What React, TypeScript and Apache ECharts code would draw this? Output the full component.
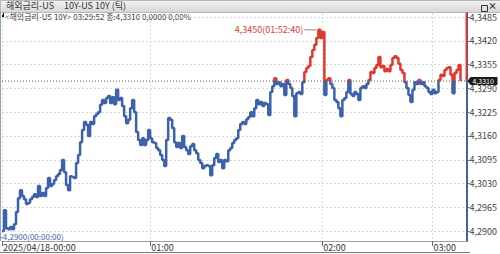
import React, { useEffect, useRef } from "react";
import * as echarts from "echarts";

// Tick-by-tick yield (US 10Y)
const yields: number[] = [
  4.2900, 4.2957, 4.2908, 4.2905, 4.2911, 4.2905, 4.2919, 4.2952, 4.2990, 4.3012,
  4.2996, 4.2987, 4.2974, 4.2977, 4.2987, 4.2993, 4.3001, 4.2993, 4.3023, 4.2996,
  4.3004, 4.2996, 4.3018, 4.3045, 4.3023, 4.3029, 4.3039, 4.3050, 4.3056, 4.3067,
  4.3094, 4.3061, 4.3026, 4.3012, 4.3050, 4.3048, 4.3045, 4.3086, 4.3108, 4.3143,
  4.3176, 4.3198, 4.3190, 4.3160, 4.3198, 4.3193, 4.3214, 4.3220, 4.3225, 4.3245,
  4.3258, 4.3250, 4.3264, 4.3269, 4.3250, 4.3266, 4.3247, 4.3286, 4.3258, 4.3264,
  4.3242, 4.3214, 4.3195, 4.3204, 4.3236, 4.3258, 4.3225, 4.3171, 4.3149, 4.3135,
  4.3154, 4.3135, 4.3149, 4.3176, 4.3154, 4.3143, 4.3141, 4.3127, 4.3121, 4.3108,
  4.3094, 4.3078, 4.3149, 4.3209, 4.3204, 4.3182, 4.3143, 4.3130, 4.3141, 4.3127,
  4.3160, 4.3130, 4.3121, 4.3111, 4.3132, 4.3138, 4.3121, 4.3113, 4.3094, 4.3086,
  4.3072, 4.3078, 4.3080, 4.3078, 4.3053, 4.3080, 4.3100, 4.3111, 4.3089, 4.3094,
  4.3072, 4.3094, 4.3091, 4.3121, 4.3127, 4.3141, 4.3149, 4.3154, 4.3176, 4.3193,
  4.3198, 4.3193, 4.3206, 4.3212, 4.3225, 4.3214, 4.3236, 4.3258, 4.3247, 4.3253,
  4.3242, 4.3250, 4.3247, 4.3217, 4.3280, 4.3296, 4.3318, 4.3302, 4.3307, 4.3296,
  4.3302, 4.3272, 4.3313, 4.3302, 4.3291, 4.3269, 4.3214, 4.3277, 4.3280, 4.3275,
  4.3307, 4.3335, 4.3346, 4.3351, 4.3376, 4.3395, 4.3409, 4.3428, 4.3450, 4.3428,
  4.3444, 4.3272, 4.3313, 4.3318, 4.3302, 4.3291, 4.3258, 4.3253, 4.3236, 4.3214,
  4.3258, 4.3264, 4.3280, 4.3313, 4.3275, 4.3269, 4.3280, 4.3275, 4.3258, 4.3291,
  4.3296, 4.3291, 4.3302, 4.3313, 4.3335, 4.3332, 4.3346, 4.3354, 4.3376, 4.3348,
  4.3351, 4.3337, 4.3343, 4.3337, 4.3354, 4.3373, 4.3378, 4.3373, 4.3357, 4.3340,
  4.3332, 4.3307, 4.3291, 4.3272, 4.3253, 4.3286, 4.3307, 4.3302, 4.3313, 4.3302,
  4.3307, 4.3296, 4.3291, 4.3280, 4.3275, 4.3286, 4.3277, 4.3280, 4.3313, 4.3327,
  4.3324, 4.3340, 4.3346, 4.3348, 4.3327, 4.3277, 4.3332, 4.3340, 4.3354, 4.3310,
];

// empty tick slots to the right of the last tick
const padSlots: string[] = ["p1", "p2", "p3"];
const categories: string[] = [...yields.map((_, i) => "t" + i), ...padSlots];

const timeTickIndex: number[] = [0, 74, 160, 215];
const timeTickText: string[] = ["2025/04/18-00:00", "01:00", "02:00", "03:00"];

const yTicks: number[] = [4.2900, 4.2965, 4.3030, 4.3095, 4.3160, 4.3225, 4.3290, 4.3355, 4.3420, 4.3485];
const yMin = 4.2873;
const yMax = 4.3496;
const lastPrice = 4.3310;
const maxLabel = "4,3450(01:52:40)";
const minLabel = "4,2900(00:00:00)";

const titleLeft = "해외금리-US";
const titleRight = "10Y-US 10Y (틱)";
const infoText = "<해외금리-US 10Y> 03:29:52 종:4,3310 0,0000 0,00%";

const RED = "#e2372c";
const BLUE = "#3d61aa";
const FONT = "'Noto Sans CJK KR', 'DejaVu Sans', sans-serif";

const fmt = (v: number) => v.toFixed(4).replace(".", ",");

export default function App() {
  const ref = useRef<HTMLDivElement>(null);

  useEffect(() => {
    if (!ref.current) return;
    const chart = echarts.init(ref.current, undefined, { renderer: "svg" });

    const maxVal = Math.max(...yields);
    const maxIdx = yields.indexOf(maxVal);
    const minVal = Math.min(...yields);
    const minIdx = yields.indexOf(minVal);
    const lastIdx = categories.length - 1;
    const isTick = (i: number) => timeTickIndex.includes(i);

    chart.setOption({
      animation: false,
      backgroundColor: "#ffffff",
      textStyle: { fontFamily: FONT },
      grid: { left: 2, right: 33, top: 13, bottom: 13, containLabel: false },
      xAxis: {
        type: "category",
        data: categories,
        boundaryGap: false,
        axisLine: { show: true, lineStyle: { color: "#a0a0a0", width: 1 } },
        axisTick: { show: true, interval: isTick, length: 5, lineStyle: { color: "#666" } },
        axisLabel: {
          interval: isTick,
          formatter: (_v: string, i: number) => {
            const k = timeTickIndex.indexOf(i);
            return k >= 0 ? timeTickText[k] : "";
          },
          align: "left",
          margin: 2,
          fontSize: 9,
          color: "#333",
          fontFamily: FONT,
          padding: [0, 0, 0, 1],
        },
        splitLine: { show: true, interval: isTick, lineStyle: { color: "#dadada", type: [2, 2], width: 1 } },
      },
      yAxis: {
        type: "value",
        position: "right",
        min: yMin,
        max: yMax,
        axisLine: { show: true, lineStyle: { color: BLUE, width: 2 } },
        axisTick: { show: true, customValues: yTicks, length: 3, lineStyle: { color: "#666" } },
        axisLabel: {
          customValues: yTicks,
          formatter: (v: number) => fmt(v),
          margin: 3,
          fontSize: 9,
          color: "#444",
          fontFamily: FONT,
        },
        splitLine: { show: true, lineStyle: { color: "#dadada", type: [2, 2], width: 1 } },
      },
      visualMap: {
        show: false,
        type: "piecewise",
        dimension: 1,
        seriesIndex: 0,
        pieces: [
          { gt: lastPrice, lte: 10, color: RED },
          { gte: 0, lte: lastPrice, color: BLUE },
        ],
      },
      series: [
        {
          type: "line",
          data: yields,
          step: "end",
          symbol: "none",
          lineStyle: { width: 2.5 },
        },
        {
          type: "custom",
          silent: true,
          data: [[maxIdx, maxVal, minIdx, minVal, lastPrice]],
          renderItem: (_params: any, api: any) => {
            const top = api.coord([lastIdx, yMax]);
            const mid = api.coord([lastIdx, api.value(4)]);
            const left = api.coord([0, api.value(4)]);
            const pk = api.coord([api.value(0), api.value(1)]);
            const lo = api.coord([api.value(2), api.value(3)]);
            return {
              type: "group",
              children: [
                {
                  type: "line",
                  shape: { x1: left[0], y1: mid[1], x2: mid[0], y2: mid[1] },
                  style: { stroke: "#555", lineWidth: 1, lineDash: [1, 2] },
                },
                {
                  type: "line",
                  shape: { x1: top[0], y1: top[1], x2: mid[0], y2: mid[1] },
                  style: { stroke: RED, lineWidth: 2 },
                },
                {
                  type: "polygon",
                  shape: {
                    points: [
                      [mid[0] + 1, mid[1]],
                      [mid[0] + 4, mid[1] - 4],
                      [mid[0] + 31, mid[1] - 4],
                      [mid[0] + 31, mid[1] + 4],
                      [mid[0] + 4, mid[1] + 4],
                    ],
                  },
                  style: { fill: "#1b1b1b" },
                },
                {
                  type: "text",
                  x: mid[0] + 6,
                  y: mid[1],
                  style: {
                    text: fmt(api.value(4)),
                    fill: "#fff",
                    fontSize: 7,
                    fontFamily: FONT,
                    align: "left",
                    verticalAlign: "middle",
                  },
                },
                {
                  type: "line",
                  shape: { x1: pk[0] - 14, y1: pk[1], x2: pk[0] - 2, y2: pk[1] },
                  style: { stroke: "#888", lineWidth: 1 },
                },
                {
                  type: "text",
                  x: pk[0] - 15,
                  y: pk[1],
                  style: {
                    text: maxLabel,
                    fill: RED,
                    fontSize: 9,
                    fontFamily: FONT,
                    align: "right",
                    verticalAlign: "middle",
                  },
                },
                {
                  type: "text",
                  x: lo[0] - 2,
                  y: lo[1] + 5,
                  style: {
                    text: "-" + minLabel,
                    fill: BLUE,
                    fontSize: 8,
                    fontFamily: FONT,
                    align: "left",
                    verticalAlign: "middle",
                  },
                },
              ],
            };
          },
        },
      ],
      graphic: [
        {
          type: "rect",
          left: 0,
          top: 0,
          shape: { width: 500, height: 12 },
          style: {
            fill: new echarts.graphic.LinearGradient(0, 0, 0, 1, [
              { offset: 0, color: "#f4f4f4" },
              { offset: 1, color: "#d6d6d6" },
            ]),
            stroke: "#b8b8b8",
            lineWidth: 1,
          },
          silent: true,
        },
        {
          type: "text",
          left: 6,
          top: 1,
          style: { text: titleLeft, fontSize: 9, fill: "#333", fontFamily: FONT },
          silent: true,
        },
        {
          type: "text",
          left: 64,
          top: 1,
          style: { text: titleRight, fontSize: 9, fill: "#333", fontFamily: FONT },
          silent: true,
        },
        {
          type: "rect",
          left: 479,
          top: 3,
          shape: { width: 6, height: 6 },
          style: { fill: "none", stroke: "#333", lineWidth: 1 },
          silent: true,
        },
        {
          type: "text",
          left: 488,
          top: 1,
          style: { text: "×", fontSize: 9, fontWeight: "bold", fill: "#333", fontFamily: FONT },
          silent: true,
        },
        {
          type: "rect",
          left: 2,
          top: 13,
          shape: { width: 2, height: 5 },
          style: { fill: "#111" },
          silent: true,
        },
        {
          type: "text",
          left: 5,
          top: 12,
          style: { text: infoText, fontSize: 8, fill: "#333", fontFamily: FONT },
          silent: true,
        },
        {
          type: "line",
          shape: { x1: 0.5, y1: 12, x2: 0.5, y2: 241 },
          style: { stroke: "#8fa3c4", lineWidth: 1 },
          silent: true,
        },
        {
          type: "line",
          shape: { x1: 0, y1: 252.5, x2: 470, y2: 252.5 },
          style: { stroke: "#7a7a7a", lineWidth: 1 },
          silent: true,
        },
      ],
    });

    return () => chart.dispose();
  }, []);

  return (
    <div
      ref={ref}
      style={{ position: "fixed", left: 0, top: 0, width: 500, height: 254, background: "#fff" }}
    />
  );
}
